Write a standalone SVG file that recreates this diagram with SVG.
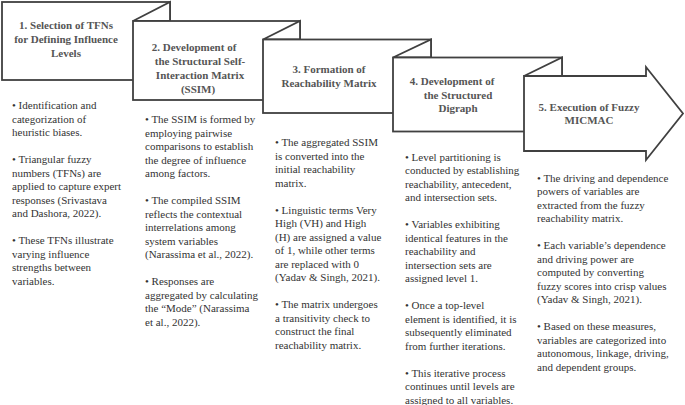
<svg xmlns="http://www.w3.org/2000/svg" width="685" height="405" viewBox="0 0 685 405">
<style>
.box{fill:#fff;stroke:#404040;stroke-width:1.8;stroke-linejoin:miter}
.t{font-family:"Liberation Serif","Times New Roman",serif;font-size:11px;font-weight:bold;fill:#555;text-anchor:middle}
.b{font-family:"Liberation Serif","Times New Roman",serif;font-size:11px;fill:#333}
</style>
<rect width="685" height="405" fill="#fff"/>
<g id="connectors"></g>
<g id="node1">
<rect class="box" x="2" y="2" width="168" height="78"/>
<text class="t"><tspan x="66" y="29">1. Selection of TFNs</tspan><tspan x="66" y="43">for Defining Influence</tspan><tspan x="66" y="57">Levels</tspan></text>
<text class="b"><tspan x="12" y="109">• Identification and</tspan><tspan x="12" dy="13.5">categorization of</tspan><tspan x="12" dy="13.5">heuristic biases.</tspan><tspan x="12" dy="27">• Triangular fuzzy</tspan><tspan x="12" dy="13.5">numbers (TFNs) are</tspan><tspan x="12" dy="13.5">applied to capture expert</tspan><tspan x="12" dy="13.5">responses (Srivastava</tspan><tspan x="12" dy="13.5">and Dashora, 2022).</tspan><tspan x="12" dy="27">• These TFNs illustrate</tspan><tspan x="12" dy="13.5">varying influence</tspan><tspan x="12" dy="13.5">strengths between</tspan><tspan x="12" dy="13.5">variables.</tspan></text>
</g>
<g id="node2">
<path class="box" d="M133,21 L170,2 L170,21 Z"/>
<rect class="box" x="133" y="21" width="167" height="79"/>
<text class="t"><tspan x="194" y="51">2. Development of</tspan><tspan x="200" y="65">the Structural Self-</tspan><tspan x="200" y="79">Interaction Matrix</tspan><tspan x="198" y="93">(SSIM)</tspan></text>
<text class="b"><tspan x="145" y="123">• The SSIM is formed by</tspan><tspan x="145" dy="13.5">employing pairwise</tspan><tspan x="145" dy="13.5">comparisons to establish</tspan><tspan x="145" dy="13.5">the degree of influence</tspan><tspan x="145" dy="13.5">among factors.</tspan><tspan x="145" dy="27">• The compiled SSIM</tspan><tspan x="145" dy="13.5">reflects the contextual</tspan><tspan x="145" dy="13.5">interrelations among</tspan><tspan x="145" dy="13.5">system variables</tspan><tspan x="145" dy="13.5">(Narassima et al., 2022).</tspan><tspan x="145" dy="27">• Responses are</tspan><tspan x="145" dy="13.5">aggregated by calculating</tspan><tspan x="145" dy="13.5">the “Mode” (Narassima</tspan><tspan x="145" dy="13.5">et al., 2022).</tspan></text>
</g>
<g id="node3">
<path class="box" d="M263,39.5 L300,21 L300,39.5 Z"/>
<rect class="box" x="263" y="39.5" width="168" height="73.5"/>
<text class="t"><tspan x="329" y="73">3. Formation of</tspan><tspan x="329" y="87">Reachability Matrix</tspan></text>
<text class="b"><tspan x="275" y="146">• The aggregated SSIM</tspan><tspan x="275" dy="13.5">is converted into the</tspan><tspan x="275" dy="13.5">initial reachability</tspan><tspan x="275" dy="13.5">matrix.</tspan><tspan x="275" dy="27">• Linguistic terms Very</tspan><tspan x="275" dy="13.5">High (VH) and High</tspan><tspan x="275" dy="13.5">(H) are assigned a value</tspan><tspan x="275" dy="13.5">of 1, while other terms</tspan><tspan x="275" dy="13.5">are replaced with 0</tspan><tspan x="275" dy="13.5">(Yadav &amp; Singh, 2021).</tspan><tspan x="275" dy="27">• The matrix undergoes</tspan><tspan x="275" dy="13.5">a transitivity check to</tspan><tspan x="275" dy="13.5">construct the final</tspan><tspan x="275" dy="13.5">reachability matrix.</tspan></text>
</g>
<g id="node4">
<path class="box" d="M393,57.5 L431,39.5 L431,57.5 Z"/>
<rect class="box" x="393" y="57.5" width="169" height="74"/>
<text class="t"><tspan x="452" y="85">4. Development of</tspan><tspan x="458" y="99">the Structured</tspan><tspan x="458" y="112">Digraph</tspan></text>
<text class="b"><tspan x="405" y="160.5">• Level partitioning is</tspan><tspan x="405" dy="13.5">conducted by establishing</tspan><tspan x="405" dy="13.5">reachability, antecedent,</tspan><tspan x="405" dy="13.5">and intersection sets.</tspan><tspan x="405" dy="27">• Variables exhibiting</tspan><tspan x="405" dy="13.5">identical features in the</tspan><tspan x="405" dy="13.5">reachability and</tspan><tspan x="405" dy="13.5">intersection sets are</tspan><tspan x="405" dy="13.5">assigned level 1.</tspan><tspan x="405" dy="27">• Once a top-level</tspan><tspan x="405" dy="13.5">element is identified, it is</tspan><tspan x="405" dy="13.5">subsequently eliminated</tspan><tspan x="405" dy="13.5">from further iterations.</tspan><tspan x="405" dy="27">• This iterative process</tspan><tspan x="405" dy="13.5">continues until levels are</tspan><tspan x="405" dy="13.5">assigned to all variables.</tspan></text>
</g>
<g id="node5">
<path class="box" d="M524,76 L562,57.5 L562,76 Z"/>
<path class="box" d="M524,76 L646,76 L646,67 L683,113.5 L646,160 L646,151 L524,151 Z"/>
<text class="t"><tspan x="589" y="111">5. Execution of Fuzzy</tspan><tspan x="589" y="124">MICMAC</tspan></text>
<text class="b"><tspan x="537" y="181.5">• The driving and dependence</tspan><tspan x="537" dy="13.5">powers of variables are</tspan><tspan x="537" dy="13.5">extracted from the fuzzy</tspan><tspan x="537" dy="13.5">reachability matrix.</tspan><tspan x="537" dy="27">• Each variable’s dependence</tspan><tspan x="537" dy="13.5">and driving power are</tspan><tspan x="537" dy="13.5">computed by converting</tspan><tspan x="537" dy="13.5">fuzzy scores into crisp values</tspan><tspan x="537" dy="13.5">(Yadav &amp; Singh, 2021).</tspan><tspan x="537" dy="27">• Based on these measures,</tspan><tspan x="537" dy="13.5">variables are categorized into</tspan><tspan x="537" dy="13.5">autonomous, linkage, driving,</tspan><tspan x="537" dy="13.5">and dependent groups.</tspan></text>
</g>
</svg>
